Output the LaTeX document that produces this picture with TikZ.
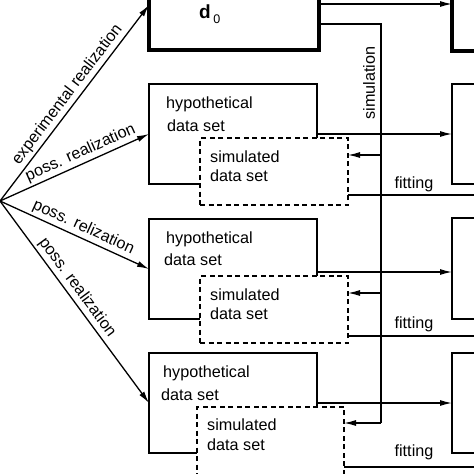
\documentclass[tikz,border=0pt]{standalone}
\usepackage{fontspec}
\setmainfont{Liberation Sans}
\usetikzlibrary{arrows.meta,calc}
\begin{document}
\begin{tikzpicture}[x=1pt,y=-1pt,
  box/.style={draw, line width=1.3pt, rectangle, inner sep=0pt, outer sep=0pt},
  thickbox/.style={draw, line width=3.4pt, rectangle, inner sep=0pt, outer sep=0pt},
  dbox/.style={draw, fill=white, line width=1.3pt, dash pattern=on 5pt off 3.5pt, rectangle, inner sep=0pt, outer sep=0pt},
  conn/.style={line width=1.3pt},
  arr/.style={conn, -{Latex[length=12pt,width=6pt]}},
  lbl/.style={font=\fontsize{16.2}{19}\selectfont, inner sep=0pt},
  alabel/.style={font=\fontsize{16.2}{19}\selectfont, sloped, above, inner sep=2.5pt}
]
\useasboundingbox (0,0) rectangle (474,474);
\clip (0,0) rectangle (474,474);

% top boxes
\node[thickbox, minimum width=170pt, minimum height=90pt] (d0) at (234,5) {};
\node[thickbox, minimum width=108pt, minimum height=91pt] (R0) at (506,5.5) {};
\node[anchor=base west, inner sep=0pt] (d0label) at (199,18.5) {\fontsize{19}{20}\selectfont\bfseries d\kern2.5pt\raisebox{-5pt}{\fontsize{12.5}{13}\selectfont\mdseries 0}};

% hypothetical boxes
\node[box, minimum width=168pt, minimum height=100pt] (H1) at (233,134) {};
\node[box, minimum width=168pt, minimum height=100pt] (H2) at (233,269) {};
\node[box, minimum width=168pt, minimum height=100pt] (H3) at (233,403) {};

% right boxes
\node[box, minimum width=108pt, minimum height=100pt] (R1) at (506,134) {};
\node[box, minimum width=108pt, minimum height=101pt] (R2) at (506,268.5) {};
\node[box, minimum width=108pt, minimum height=100pt] (R3) at (506,403) {};

% texts in hypothetical boxes
\node[lbl, anchor=base west] (h1a) at ($(H1.north west)+(17,24)$) {hypothetical};
\node[lbl, anchor=base west] (h1b) at ($(H1.north west)+(18,47)$) {data set};
\node[lbl, anchor=base west] (h2a) at ($(H2.north west)+(17,24)$) {hypothetical};
\node[lbl, anchor=base west] (h2b) at ($(H2.north west)+(15,46)$) {data set};
\node[lbl, anchor=base west] (h3a) at ($(H3.north west)+(14,24)$) {hypothetical};
\node[lbl, anchor=base west] (h3b) at ($(H3.north west)+(12,47)$) {data set};

% realization arrows
\coordinate (O) at (0,201);
\draw[arr] (O) -- node[alabel, pos=0.51] {experimental realization} (d0.west);
\draw[arr] (O) -- node[alabel, pos=0.57] {poss. realization} (H1.west);
\draw[arr] (O) -- node[alabel, pos=0.53] {poss. relization} (H2.west);
\draw[arr] (O) -- node[alabel, pos=0.46] {poss. realization} (H3.west);

% arrows hypothetical -> right boxes
\coordinate (a0) at (319,4);
\draw[arr] (a0) -- (a0 -| R0.west);
\draw[arr] (H1.east) -- (R1.west);
\coordinate (a2) at (317,272);
\draw[arr] (a2) -- (a2 -| R2.west);
\draw[arr] (H3.east) -- (R3.west);

% simulated boxes
\node[dbox, minimum width=148pt, minimum height=67pt] (S1) at (274,171.5) {};
\node[dbox, minimum width=148pt, minimum height=67pt] (S2) at (274,309.5) {};
\node[dbox, minimum width=147pt, minimum height=133pt] (S3) at (270.5,473.5) {};
\node[lbl, anchor=base west] (s1a) at ($(S1.north west)+(10,24)$) {simulated};
\node[lbl, anchor=base west] (s1b) at ($(S1.north west)+(10,43)$) {data set};
\node[lbl, anchor=base west] (s2a) at ($(S2.north west)+(10,24)$) {simulated};
\node[lbl, anchor=base west] (s2b) at ($(S2.north west)+(10,43)$) {data set};
\node[lbl, anchor=base west] (s3a) at ($(S3.north west)+(10,23)$) {simulated};
\node[lbl, anchor=base west] (s3b) at ($(S3.north west)+(10,43)$) {data set};

% simulation
\coordinate (sim0) at (319,24);
\coordinate (simc) at (381,24);
\coordinate (v1) at (381,155);
\coordinate (v2) at (381,293);
\coordinate (v3) at (381,423);
\draw[conn] (sim0) -- (simc) -- (v3);
\draw[arr] (v1) -- (v1 -| S1.east);
\draw[arr] (v2) -- (v2 -| S2.east);
\draw[arr] (v3) -- (v3 -| S3.east);
\node[lbl, rotate=90] (simlabel) at (369,83) {simulation};

% fitting
\coordinate (f1) at (480,195);
\coordinate (f2) at (480,336);
\coordinate (f3) at (480,467);
\draw[conn] (f1 -| S1.east) -- (f1);
\draw[conn] (f2 -| S2.east) -- (f2);
\draw[conn] (f3 -| S3.east) -- (f3);
\node[lbl, anchor=base] (fit1) at (414,188) {fitting};
\node[lbl, anchor=base] (fit2) at (414,328) {fitting};
\node[lbl, anchor=base] (fit3) at (414,456) {fitting};
\end{tikzpicture}
\end{document}
